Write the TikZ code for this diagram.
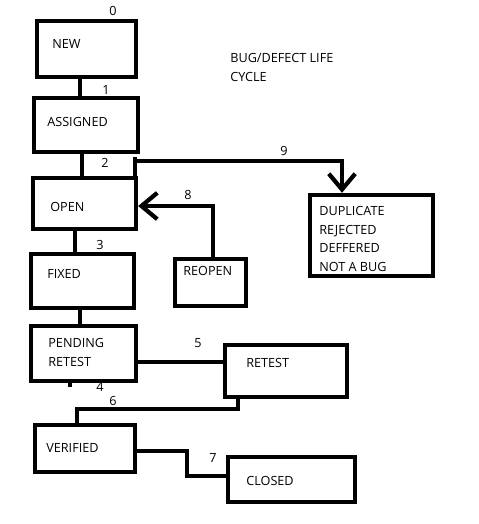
\documentclass[tikz,border=0pt]{standalone}
\usepackage{fontspec}
\setmainfont{Open Sans}
\usetikzlibrary{arrows.meta}
\begin{document}
\begin{tikzpicture}[x=0.02cm, y=-0.02cm,
        box/.style={draw, line width=2.5pt, inner sep=0pt},
        txt/.style={anchor=west, inner sep=0pt, align=left, font=\fontsize{7.2}{10.6}\selectfont},
        num/.style={inner sep=0pt, font=\fontsize{7.2}{8}\selectfont},
        link/.style={line width=2.4pt},
        arr/.style={line width=2.4pt, -{Straight Barb[length=9pt, width=15pt, line width=2.4pt]}}]

      \useasboundingbox (0,0) rectangle (479,524);

      % States
      \node[box, minimum width=1.98cm, minimum height=1.12cm] (new) at (86.5,49) {};
      \node[box, minimum width=2.08cm, minimum height=1.08cm] (assigned) at (86,125) {};
      \node[box, minimum width=2.06cm, minimum height=1.02cm] (open) at (84.5,203.5) {};
      \node[box, minimum width=2.06cm, minimum height=1.08cm] (fixed) at (82.5,281) {};
      \node[box, minimum width=1.42cm, minimum height=0.94cm] (reopen) at (210.5,282.5) {};
      \node[box, minimum width=2.10cm, minimum height=1.10cm] (pending) at (83.5,353.5) {};
      \node[box, minimum width=2.44cm, minimum height=1.04cm] (retest) at (286,371) {};
      \node[box, minimum width=2.00cm, minimum height=0.94cm] (verified) at (85,448.5) {};
      \node[box, minimum width=2.54cm, minimum height=0.90cm] (closed) at (291.5,479.5) {};
      \node[box, minimum width=2.46cm, minimum height=1.62cm] (dup) at (371.5,235.5) {};

      % State names
      \node[txt] (tnew) at (52,44) {NEW};
      \node[txt] (tassigned) at (47,122) {ASSIGNED};
      \node[txt] (topen) at (50,207) {OPEN};
      \node[txt] (tfixed) at (47,274) {FIXED};
      \node[txt] (treopen) at (183,271) {REOPEN};
      \node[txt] (tpending) at (48,352.5) {PENDING\\RETEST};
      \node[txt] (tretest) at (246,363) {RETEST};
      \node[txt] (tverified) at (46,448) {VERIFIED};
      \node[txt] (tclosed) at (246,481) {CLOSED};
      \node[txt] (tdup) at (319,239) {DUPLICATE\\REJECTED\\DEFFERED\\NOT A BUG};
      \node[txt] (title) at (230,67.5) {BUG/DEFECT LIFE\\CYCLE};

      % Transitions
      \draw[link] (new.south -| 80,0) -- (assigned.north -| 80,0);
      \draw[link] (assigned.south -| 82,0) -- (open.north -| 82,0);
      \draw[link] (open.south -| 75,0) -- (fixed.north -| 75,0);
      \draw[link] (fixed.south -| 80,0) -- (pending.north -| 80,0);
      \draw[link] (pending.south -| 70,0) -- ++(0,4);
      \draw[link] (pending.east |- 0,362) -- (retest.west |- 0,362);
      \draw[link] (retest.south -| 238,0) -- (238,409) -| (verified.north -| 77,0);
      \draw[link] (verified.east |- 0,451) -- (187,451) |- (closed.west |- 0,476);
      \draw[arr] (reopen.north -| 213,0) |- (open.east |- 0,206);
      \draw[arr] (open.north -| 135,0) -- (135,157) -- (135,161) -| (dup.north -| 342,0);

      % Step numbers
      \node[num] (n0) at (113,11) {0};
      \node[num] (n1) at (106,90) {1};
      \node[num] (n2) at (105,163) {2};
      \node[num] (n3) at (100,245) {3};
      \node[num] (n4) at (100,387) {4};
      \node[num] (n5) at (198,343) {5};
      \node[num] (n6) at (113,401) {6};
      \node[num] (n7) at (213,458) {7};
      \node[num] (n8) at (188,195) {8};
      \node[num] (n9) at (284,151) {9};
    \end{tikzpicture}
\end{document}
